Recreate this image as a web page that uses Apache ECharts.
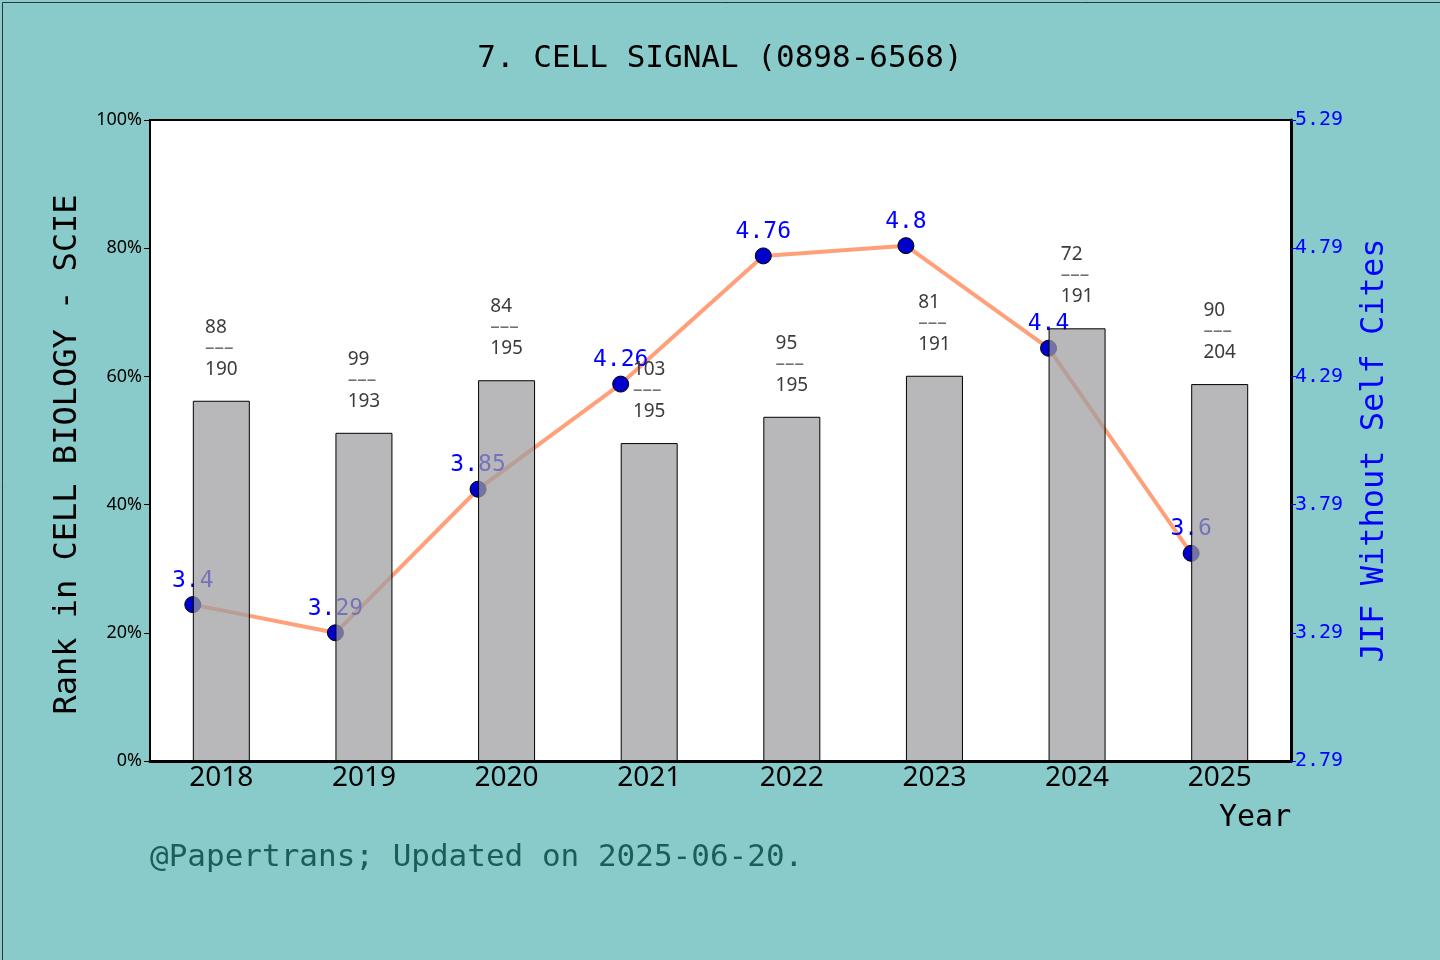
<!DOCTYPE html>
<html>
<head>
<meta charset="utf-8">
<title>CELL SIGNAL</title>
<script src="https://cdn.jsdelivr.net/npm/echarts@6/dist/echarts.min.js"></script>
<style>
  html, body { margin: 0; padding: 0; }
  #chart { width: 1440px; height: 960px; }
</style>
</head>
<body>
<div id="chart"></div>
<script>
// data
const years = ['2018', '2019', '2020', '2021', '2022', '2023', '2024', '2025'];
const rankPercent = [56.2, 51.2, 59.4, 49.6, 53.7, 60.1, 67.5, 58.8];
const rankNum = [88, 99, 84, 103, 95, 81, 72, 90];
const rankTotal = [190, 193, 195, 195, 195, 191, 191, 204];
const jifNoSelf = [3.4, 3.29, 3.85, 4.26, 4.76, 4.8, 4.4, 3.6];
const jifTicks = [2.79, 3.29, 3.79, 4.29, 4.79, 5.29];

const mono = '"DejaVu Sans Mono", monospace';
const sans = '"Noto Sans", sans-serif';

const chart = echarts.init(document.getElementById('chart'));

// the line points sit on the left edge of each bar, so they use a hidden value axis
const linePoints = jifNoSelf.map((v, i) => [i, v]);

const option = {
  backgroundColor: '#88cbca',
  animation: false,
  title: {
    text: '7. CELL SIGNAL (0898-6568)',
    left: 'center',
    top: 38,
    textStyle: { fontFamily: mono, fontSize: 31, fontWeight: 'normal', color: '#000' }
  },
  grid: {
    left: 150,
    right: 149,
    top: 120,
    bottom: 199,
    show: true,
    backgroundColor: '#fff',
    borderColor: '#000',
    borderWidth: 2
  },
  xAxis: [
    {
      type: 'category',
      data: years,
      name: 'Year',
      nameLocation: 'end',
      nameGap: -72,
      nameTextStyle: {
        fontFamily: mono, fontSize: 30, color: '#000',
        verticalAlign: 'top', padding: [42, 0, 0, 0]
      },
      axisLine: { lineStyle: { color: '#000', width: 3 } },
      axisTick: { inside: true, length: 6, lineStyle: { color: '#000' } },
      axisLabel: { fontFamily: sans, fontSize: 28, color: '#000', margin: 3 }
    },
    {
      type: 'value',
      min: -0.3,
      max: 7.7,
      show: false
    }
  ],
  yAxis: [
    {
      type: 'value',
      min: 0,
      max: 100,
      interval: 20,
      name: 'Rank in CELL BIOLOGY - SCIE',
      nameLocation: 'middle',
      nameRotate: 90,
      nameGap: 66,
      nameTextStyle: { fontFamily: mono, fontSize: 32, color: '#000', padding: [0, 28, 0, 0] },
      axisLine: { show: true, onZero: false, lineStyle: { color: '#000', width: 2 } },
      axisTick: { show: true, length: 6, lineStyle: { color: '#000' } },
      axisLabel: { formatter: '{value}%', fontFamily: sans, fontSize: 18, color: '#000', margin: 8 },
      splitLine: { show: false }
    },
    {
      type: 'value',
      min: jifTicks[0],
      max: jifTicks[jifTicks.length - 1],
      position: 'right',
      name: 'JIF Without Self Cites',
      nameLocation: 'middle',
      nameRotate: 90,
      nameGap: 68,
      nameTextStyle: { fontFamily: mono, fontSize: 32, color: '#0000ff', padding: [0, 20, 0, 0] },
      axisLine: { show: true, onZero: false, lineStyle: { color: '#000', width: 3 } },
      axisTick: { show: true, length: 5, customValues: jifTicks, lineStyle: { color: '#0000ff' } },
      axisLabel: {
        customValues: jifTicks,
        formatter: v => v.toFixed(2),
        fontFamily: mono, fontSize: 20, color: '#0000ff', margin: 4, padding: [8, 0, 0, 0]
      },
      splitLine: { show: false }
    }
  ],
  series: [
    {
      name: 'JIF',
      type: 'line',
      xAxisIndex: 1,
      yAxisIndex: 1,
      z: 2,
      data: linePoints,
      lineStyle: { color: '#ffa07a', width: 4 },
      symbol: 'circle',
      symbolSize: 16,
      itemStyle: { color: '#0000cc', borderColor: '#000', borderWidth: 1 },
      label: {
        show: true,
        position: 'top',
        distance: 4,
        formatter: p => p.value[1],
        fontFamily: mono,
        fontSize: 23,
        color: '#0000ff'
      }
    },
    {
      name: 'Rank',
      type: 'bar',
      z: 3,
      barWidth: 57,
      data: rankPercent,
      itemStyle: { color: 'rgba(157,158,160,0.73)', borderColor: '#000', borderWidth: 1 },
      label: {
        show: true,
        position: 'top',
        distance: 21,
        formatter: p => '{n|' + rankNum[p.dataIndex] + '}\n{d|–––}\n{n|' + rankTotal[p.dataIndex] + '}',
        rich: {
          n: { fontFamily: sans, fontSize: 19, color: '#3c3c3c', lineHeight: 21, align: 'left' },
          d: { fontFamily: sans, fontSize: 19, color: '#707070', lineHeight: 21, align: 'left' }
        }
      }
    }
  ],
  graphic: [
    {
      type: 'text',
      left: 150,
      top: 842,
      style: {
        text: '@Papertrans; Updated on 2025-06-20.',
        font: '31px "DejaVu Sans Mono", monospace',
        fill: '#1c5d5a'
      }
    },
    {
      type: 'rect',
      left: 0,
      top: 0,
      shape: { width: 1439, height: 959 },
      style: { fill: 'none', stroke: '#333', lineWidth: 1 },
      silent: true
    }
  ]
};

chart.setOption(option);
</script>
</body>
</html>
